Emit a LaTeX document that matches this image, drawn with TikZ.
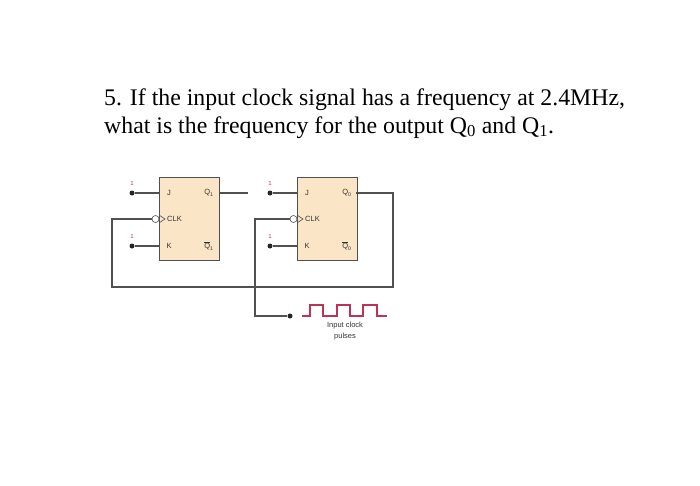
\documentclass[tikz,border=0pt]{standalone}
\usepackage{fontspec}
\setmainfont{Liberation Serif}
\newfontfamily\sans{Liberation Sans}
\definecolor{boxfill}{RGB}{250,229,198}
\definecolor{wire}{RGB}{80,80,80}
\definecolor{pulse}{RGB}{190,50,85}
\begin{document}
\begin{tikzpicture}[x=1pt,y=-1pt,
  ff/.style={draw=wire,fill=boxfill,line width=0.6pt},
  w/.style={draw=wire,line width=1.3pt},
  lbl/.style={font=\sans\fontsize{7.5}{8}\selectfont,text=black!80,inner sep=0pt},
  one/.style={font=\sans\fontsize{6}{7}\selectfont,text=pulse,inner sep=0pt},
  dot/.style={circle,fill=black!85,inner sep=0pt,minimum size=5pt}]
\useasboundingbox (0,0) rectangle (700,485);
\node[anchor=base west,inner sep=0pt,font=\fontsize{23.8}{28}\selectfont] (t1) at (104,105) {5. If the input clock signal has a frequency at 2.4MHz,};
\node[anchor=base west,inner sep=0pt,font=\fontsize{23.8}{28}\selectfont] (t2) at (104,133) {what is the frequency for the output Q\textsubscript{0} and Q\textsubscript{1}.};
% boxes
\foreach \n/\x/\i in {a/159/1,b/297/0}{
  \draw[ff] (\x,177) rectangle ++(60,83);
  \coordinate (\n J) at (\x,193);
  \coordinate (\n C) at (\x,219);
  \coordinate (\n K) at (\x,246);
  \node[dot] (\n dj) at (\x-27,193) {};
  \node[dot] (\n dk) at (\x-27,246) {};
  \node[one] at (\x-27,183) {1};
  \node[one] at (\x-27,236) {1};
  \draw[w] (\n dj) -- (\n J);
  \draw[w] (\n dk) -- (\n K);
  \node[lbl] at (\x+10,193) {J};
  \node[lbl] at (\x+10,246) {K};
  \node[lbl,anchor=west] at (\x+8,219) {CLK};
  \draw[wire,line width=0.6pt] (\x,215) -- (\x+6,219) -- (\x,223);
  \draw[wire,line width=0.6pt,fill=white] (\x-3.5,219) circle (3.5);
  \coordinate (\n Cb) at (\x-7,219);
  \node[lbl] at (\x+50,193) {Q\textsubscript{\i}};
  \node[lbl] at (\x+50,246) {$\overline{\mbox{Q}}$\textsubscript{\i}};
}
\coordinate (aQ) at (219,193);
\coordinate (aQe) at (248,193);
\draw[w] (aQ) -- (aQe);
\coordinate (bQ) at (356,193);
\coordinate (r1) at (393,193);
\coordinate (r2) at (393,287);
\coordinate (l2) at (112,287);
\coordinate (l1) at (112,219);
\draw[w] (bQ) -- (r1) -- (r2) -- (l2) -- (l1) -- (aCb);
\node[dot] (clk) at (290,316) {};
\coordinate (c1) at (255,316);
\coordinate (c2) at (255,219);
\draw[w] (clk) -- (c1) -- (c2) -- (bCb);
\draw[pulse,line width=1.2pt] (302,316) -- (310,316) -- (310,305) -- (323,305) -- (323,316) -- (337,316) -- (337,305) -- (350,305) -- (350,316) -- (363,316) -- (363,305) -- (377,305) -- (377,316) -- (387,316);
\node[lbl,align=center,font=\sans\fontsize{7.5}{11}\selectfont] (ip) at (345,331) {Input clock\\pulses};
\end{tikzpicture}
\end{document}
